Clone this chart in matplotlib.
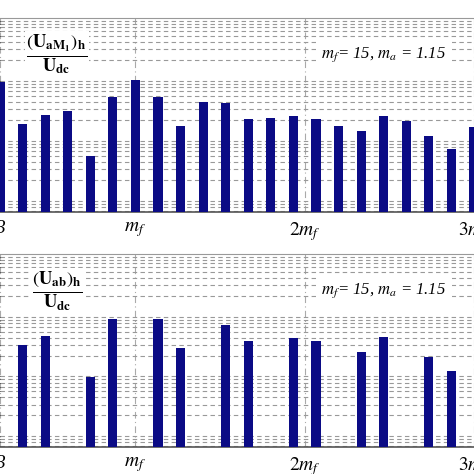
import matplotlib
matplotlib.use("Agg")
import matplotlib.pyplot as plt
import numpy as np

plt.rcParams['mathtext.fontset'] = 'stix'
plt.rcParams['font.family'] = ['Liberation Serif', 'DejaVu Serif']

h_top = [3,5,7,9,11,13,15,17,19,21,23,25,27,29,31,33,35,37,39,41,43,45]
v_top = [0.085,0.0171,0.0245,0.0285,0.00489,0.0482,0.0926,0.0482,0.0156,0.0403,0.0383,0.0205,
         0.0218,0.0230,0.0205,0.0156,0.0129,0.0236,0.0192,0.0107,0.00647,0.0151]
h_bot = [5,7,11,13,17,19,23,25,29,31,35,37,41,43]
v_bot = [0.030,0.0419,0.00858,0.0815,0.0815,0.0271,0.0648,0.035,0.0388,0.035,0.0224,0.0414,0.0185,0.0111]
xtick_pos = [3,15,30,45]
xtick_lab = ['3', '$m_f$', '$2m_f$', '$3m_f$']
ylabels = [r'$\frac{(\mathbf{U}_{\mathbf{aM_1}})_{\mathbf{h}}}{\mathbf{U}_{\mathbf{dc}}}$',
           r'$\frac{(\mathbf{U}_{\mathbf{ab}})_{\mathbf{h}}}{\mathbf{U}_{\mathbf{dc}}}$']
note = '$m_f$= 15, $m_a$ = 1.15'

fig = plt.figure(figsize=(4.74,4.74), dpi=100)
axes = [fig.add_axes([0,0.553,1,0.409]), fig.add_axes([0,0.057,1,0.407])]
for ax,(h,v),yl in zip(axes,[(h_top,v_top),(h_bot,v_bot)],ylabels):
    ax.set_yscale('log')
    ax.set_ylim(10**-3.23,1)
    ax.set_xlim(3.02,44.86)
    ax.bar(h,v,width=0.8,color='#0b0b85',zorder=3,bottom=1e-4)
    ax.set_xticks(xtick_pos)
    ax.set_xticklabels(xtick_lab,fontsize=14,style='italic')
    ax.set_yticklabels([]); ax.set_yticks([])
    ax.yaxis.grid(True,which='both',ls=(0,(4,3)),color='#999999',lw=0.8)
    ax.xaxis.grid(True,ls=(0,(6,3,1,3)),color='#aaaaaa',lw=0.8)
    ax.tick_params(axis='x',length=0,pad=6)
    for s in ['left','right']: ax.spines[s].set_visible(False)
    ax.spines['top'].set_color('#999999')
    ax.spines['bottom'].set_color('#555555'); ax.spines['bottom'].set_linewidth(1.2)
    ax.text(0.12,0.81,yl,transform=ax.transAxes,fontsize=19,ha='center',va='center',
            bbox=dict(facecolor='white',edgecolor='none',pad=1),zorder=5)
    ax.text(0.81,0.81,note,transform=ax.transAxes,fontsize=12,ha='center',va='center',style='italic',
            bbox=dict(facecolor='white',edgecolor='none',pad=4),zorder=5)
fig.savefig('out.png',dpi=100)
